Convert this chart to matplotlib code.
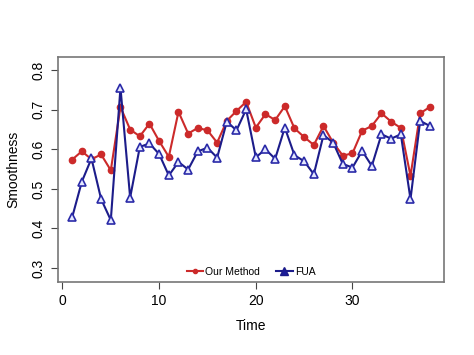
import numpy as np
import matplotlib
matplotlib.use('Agg')
import matplotlib.pyplot as plt

plt.rcParams['font.family'] = ['Liberation Sans', 'DejaVu Sans']

time = np.arange(1, 39)
our_method = [0.574, 0.595, 0.575, 0.587, 0.547, 0.707, 0.650, 0.633, 0.665, 0.621,
              0.581, 0.695, 0.640, 0.654, 0.648, 0.617, 0.672, 0.697, 0.720, 0.655,
              0.689, 0.674, 0.709, 0.653, 0.631, 0.611, 0.659, 0.617, 0.584, 0.590,
              0.647, 0.659, 0.691, 0.670, 0.654, 0.533, 0.691, 0.707]
fua = [0.428, 0.518, 0.577, 0.474, 0.421, 0.756, 0.478, 0.606, 0.615, 0.588,
       0.534, 0.568, 0.549, 0.595, 0.604, 0.579, 0.670, 0.648, 0.701, 0.580,
       0.600, 0.576, 0.655, 0.585, 0.570, 0.537, 0.636, 0.617, 0.563, 0.554,
       0.596, 0.558, 0.638, 0.627, 0.638, 0.474, 0.672, 0.659]

red = '#cc2a2a'
blue = '#1c1c8a'

fig = plt.figure(figsize=(4.74, 3.55), dpi=100)
ax = fig.add_axes([0.122, 0.206, 0.815, 0.633])

ax.plot(time, our_method, '-o', color=red, lw=1.5, ms=4.5, mfc=red, mec=red,
        label='Our Method')
ax.plot(time, fua, '-^', color=blue, lw=1.5, ms=5.5, mfc='#e4e8ff', mec='#2a2aa8',
        mew=1.2, label='FUA')

ax.set_xlim(-0.48, 39.48)
ax.set_ylim(0.265, 0.833)
ax.set_xticks([0, 10, 20, 30])
ax.set_yticks([0.3, 0.4, 0.5, 0.6, 0.7, 0.8])
ax.set_yticklabels(['0.3', '0.4', '0.5', '0.6', '0.7', '0.8'], rotation=90, va='center')
ax.tick_params(direction='out', length=5, width=0.8, color='#444444', labelsize=10, pad=4)
for s in ax.spines.values():
    s.set_color('#777777')
    s.set_linewidth(1.2)

ax.set_xlabel('Time', fontsize=10, labelpad=8)
ax.set_ylabel('Smoothness', fontsize=10, labelpad=8)

leg_handles = [
    plt.Line2D([], [], color=red, lw=1.5, marker='o', ms=3),
    plt.Line2D([], [], color=blue, lw=1.5, marker='^', ms=6, mfc='#1c1c9a'),
]
ax.legend(leg_handles, ['Our Method', 'FUA'], loc='lower center', ncol=2, frameon=False,
          fontsize=7.5, handlelength=1.6, handletextpad=0.2, columnspacing=1.5,
          bbox_to_anchor=(0.5, -0.02))

fig.savefig('out.png', dpi=100)
